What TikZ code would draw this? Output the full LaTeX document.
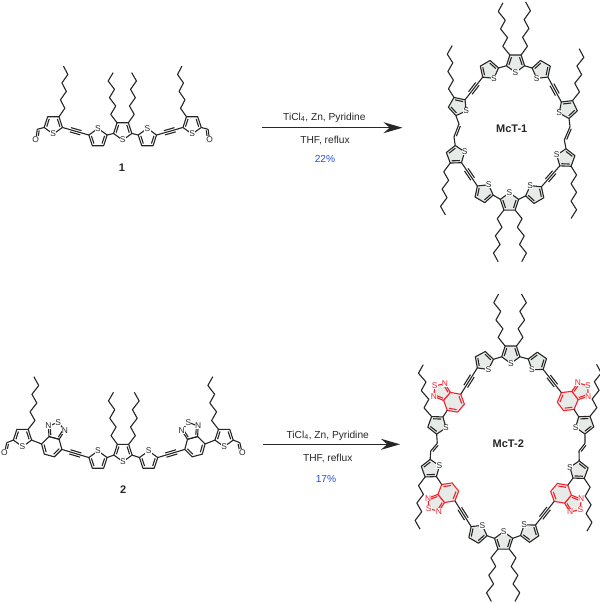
\documentclass[tikz,border=0pt]{standalone}
\usepackage{fontspec}
\setmainfont{Liberation Sans}
\usepackage{tikz}
\usetikzlibrary{arrows.meta,calc}

\definecolor{ringgrey}{HTML}{E6EBE8}
\definecolor{btdred}{HTML}{F5222D}
\definecolor{yieldblue}{HTML}{2B50D8}

\tikzset{
    bond/.style={line width=1.1pt, line join=round, draw=black!85},
    atom/.style={inner sep=0.3pt, fill=white, font=\fontsize{8.4}{9}\selectfont, text=black!85},
    reagent/.style={font=\fontsize{10.2}{12}\selectfont, text=black!85},
    label/.style={font=\fontsize{11}{13}\selectfont\bfseries, text=black!85},
    rxnarrow/.style={line width=1.4pt, draw=black!85, -{Stealth[length=19,width=11]}},
}

%% thiophene: name, centre, direction of S, fill
\newcommand{\thio}[4]{
    \begin{scope}[shift={(#2)},rotate={0-(#3)}]
        \coordinate (#1-a) at (72:9.6);
        \coordinate (#1-b) at (144:9.6);
        \coordinate (#1-c) at (216:9.6);
        \coordinate (#1-d) at (288:9.6);
        \draw[bond,fill=#4] (0:9.6) -- (#1-a) -- (#1-b) -- (#1-c) -- (#1-d) -- cycle;
        \draw[bond] (72:6.9) -- (144:6.9);
        \draw[bond] (216:6.9) -- (288:6.9);
        \node[atom] (#1-s) at (0:9.6) {S};
    \end{scope}
}

%% benzothiadiazole: name, centre, direction of S, colour, fill
\newcommand{\btd}[5]{
    \begin{scope}[shift={(#2)},rotate={0-(#3)}]
        \coordinate (#1-1) at (30:10.5);
        \coordinate (#1-2) at (90:10.5);
        \coordinate (#1-3) at (150:10.5);
        \coordinate (#1-4) at (210:10.5);
        \coordinate (#1-5) at (270:10.5);
        \coordinate (#1-6) at (330:10.5);
        \draw[bond,draw=#4,fill=#5] (#1-1) -- (19.08,8.49) -- (25.25,0) -- (19.08,-8.49) -- (#1-6) -- cycle;
        \draw[bond,draw=#4,fill=#5] (#1-1) -- (#1-2) -- (#1-3) -- (#1-4) -- (#1-5) -- (#1-6) -- cycle;
        \draw[bond,draw=#4] (90:7.8) -- (150:7.8);
        \draw[bond,draw=#4] (210:7.8) -- (270:7.8);
        \draw[bond,draw=#4] (11,3.9) -- (18.2,6.3);
        \draw[bond,draw=#4] (11,-3.9) -- (18.2,-6.3);
        \node[atom,text=#4] (#1-na) at (19.08,8.49) {N};
        \node[atom,text=#4] (#1-nb) at (19.08,-8.49) {N};
        \node[atom,text=#4] (#1-s) at (25.25,0) {S};
    \end{scope}
}

\newcommand{\hexyl}[3]{
    \draw[bond] (#1) -- ++(#2) -- ++(#3) -- ++(#2) -- ++(#3) -- ++(#2) -- ++(#3);
}
\newcommand{\alkyne}[2]{
    \draw[bond] (#1) -- (#2);
    \draw[bond] ($(#1)!.3!(#2)!2.2pt!90:(#2)$) -- ($(#1)!.7!(#2)!2.2pt!90:(#2)$);
    \draw[bond] ($(#1)!.3!(#2)!2.2pt!-90:(#2)$) -- ($(#1)!.7!(#2)!2.2pt!-90:(#2)$);
}
\newcommand{\dbond}[2]{
    \draw[bond] (#1) -- (#2);
    \draw[bond] ($(#1)!.1!(#2)!2pt!90:(#2)$) -- ($(#1)!.9!(#2)!2pt!90:(#2)$);
}
%% vinylene between two rings
\newcommand{\vinyl}[4]{
    \draw[bond] (#1) -- (#2);
    \dbond{#2}{#3}
    \draw[bond] (#3) -- (#4);
}

\begin{document}
\begin{tikzpicture}[x=1pt, y=-1pt]
    \useasboundingbox (0,0) rectangle (600,603);

    %% Monomer 1
    \thio{ca}{122.7,130.5}{90}{none}
    \hexyl{ca-b}{-6.3,-8.35}{5,-8.35}
    \hexyl{ca-c}{5.9,-8.35}{-4.8,-8.35}
    \foreach \sgn/\sd in {1/l,-1/r} {
        \begin{scope}[shift={(122.7,0)},xscale=\sgn]
            \thio{ea\sd}{-69.4,124.5}{90}{none}
            \thio{ia\sd}{-24.7,138}{-90}{none}
            \hexyl{ea\sd-c}{5.9,-8.45}{-4.4,-8.45}
            \alkyne{ea\sd-d}{ia\sd-d}
            \coordinate (cho\sd) at (-85.4,129.3);
            \coordinate (ox\sd) at (-86.6,137.6);
            \draw[bond] (ea\sd-a) -- (cho\sd);
            \dbond{cho\sd}{ox\sd}
            \node[atom] (oa\sd) at (-87,139.5) {O};
        \end{scope}
    }
    \draw[bond] (ial-a) -- (ca-a);
    \draw[bond] (iar-a) -- (ca-d);
    \node[label] (one) at (122,167.5) {1};

    %% Reaction arrow 1
    \coordinate (arrowa1) at (262,127.7);
    \coordinate (arrowa2) at (402.5,127.7);
    \draw[rxnarrow] (arrowa1) -- (arrowa2);
    \node[reagent] (reagenta) at (324.3,117.5) {TiCl\textsubscript{4}, Zn, Pyridine};
    \node[reagent] (solventa) at (325,140) {THF, reflux};
    \node[reagent,text=yieldblue] (yielda) at (325,159) {22\%};

    %% McT-1
    \thio{ta}{515.5,62.8}{90}{ringgrey}
    \hexyl{ta-b}{-7,-8.7}{4.7,-8.7}
    \hexyl{ta-c}{6.3,-8.85}{-4.8,-8.85}
    \thio{tal}{489.1,70}{60}{ringgrey}
    \thio{tar}{541.5,70}{120}{ringgrey}
    \draw[bond] (tal-d) -- (ta-a);
    \draw[bond] (tar-a) -- (ta-d);
    \thio{ula}{457.9,106.2}{30}{ringgrey}
    \thio{ura}{567.9,109}{155}{ringgrey}
    \alkyne{tal-a}{ula-d}
    \alkyne{tar-d}{ura-a}
    \hexyl{ula-c}{-5.5,-8.65}{4.9,-8.65}
    \hexyl{ura-b}{6.9,-8.65}{-4.7,-8.65}
    \thio{lla}{455.6,155.1}{-20}{ringgrey}
    \thio{lra}{565.7,158.3}{200}{ringgrey}
    \hexyl{lla-b}{-6.5,8.65}{4.9,8.65}
    \hexyl{lra-c}{5.5,8.7}{-5.5,8.7}
    \coordinate (vla1) at (459,124);
    \coordinate (vla2) at (454,136.7);
    \coordinate (vra1) at (570,126.7);
    \coordinate (vra2) at (564.3,140);
    \vinyl{ula-a}{vla1}{vla2}{lla-d}
    \vinyl{ura-d}{vra1}{vra2}{lra-a}
    \thio{bla}{483.8,193.1}{-60}{ringgrey}
    \thio{bra}{535,193.9}{-120}{ringgrey}
    \thio{ba}{509.5,202.3}{-90}{ringgrey}
    \alkyne{lla-a}{bla-d}
    \alkyne{lra-d}{bra-a}
    \draw[bond] (bla-a) -- (ba-d);
    \draw[bond] (bra-d) -- (ba-a);
    \hexyl{ba-c}{-6.6,8.6}{4.7,8.6}
    \hexyl{ba-b}{6.9,8.6}{-4.7,8.6}
    \node[label] (mcta) at (511.7,128.3) {McT-1};

    %% Monomer 2
    \thio{cb}{123,452.1}{90}{none}
    \hexyl{cb-b}{-6.3,-8.67}{5,-8.67}
    \hexyl{cb-c}{6.7,-8.67}{-4.8,-8.67}
    \foreach \sgn/\sd in {1/l,-1/r} {
        \begin{scope}[shift={(123.3,0)},xscale=\sgn]
            \thio{eb\sd}{-100.8,437.1}{90}{none}
            \thio{ib\sd}{-25.3,460.5}{-90}{none}
            \hexyl{eb\sd-c}{6.8,-8.77}{-4.9,-8.77}
            \btd{db\sd}{-71.6,446.7}{-75}{black!85}{none}
            \draw[bond] (eb\sd-d) -- (db\sd-5);
            \alkyne{db\sd-2}{ib\sd-d}
            \coordinate (chob\sd) at (-116.6,442.7);
            \coordinate (oxb\sd) at (-118.4,451);
            \draw[bond] (eb\sd-a) -- (chob\sd);
            \dbond{chob\sd}{oxb\sd}
            \node[atom] (ob\sd) at (-119,452.7) {O};
        \end{scope}
    }
    \draw[bond] (ibl-a) -- (cb-a);
    \draw[bond] (ibr-a) -- (cb-d);
    \node[label] (two) at (123.3,490) {2};

    %% Reaction arrow 2
    \coordinate (arrowb1) at (263.3,444.3);
    \coordinate (arrowb2) at (400,444.3);
    \draw[rxnarrow] (arrowb1) -- (arrowb2);
    \node[reagent] (reagentb) at (327.7,435.7) {TiCl\textsubscript{4}, Zn, Pyridine};
    \node[reagent] (solventb) at (327.7,458.3) {THF, reflux};
    \node[reagent,text=yieldblue] (yieldb) at (326,479.3) {17\%};

    %% McT-2
    \thio{tb}{510.8,353.8}{90}{ringgrey}
    \hexyl{tb-b}{-7,-8.67}{4.8,-8.67}
    \hexyl{tb-c}{6.5,-8.67}{-4.8,-8.67}
    \thio{tbl}{484,361}{62}{ringgrey}
    \thio{tbr}{537.4,361.8}{125}{ringgrey}
    \draw[bond] (tbl-d) -- (tb-a);
    \draw[bond] (tbr-a) -- (tb-d);
    \thio{ulb}{437,424.5}{20}{ringgrey}
    \thio{urb}{584.6,424.3}{160}{ringgrey}
    \thio{llb}{430.5,469}{-20}{ringgrey}
    \thio{lrb}{578.9,470.5}{200}{ringgrey}
    \hexyl{ulb-c}{-7.6,-8.65}{4.8,-8.65}
    \hexyl{urb-b}{6.9,-8.67}{-4.7,-8.67}
    \hexyl{llb-b}{-6.6,8.7}{4.9,8.7}
    \hexyl{lrb-c}{5.9,8.78}{-5,8.78}
    \btd{dul}{454,402.3}{220}{btdred}{ringgrey}
    \btd{dur}{567.7,401}{-37}{btdred}{ringgrey}
    \btd{dll}{448.3,492.7}{141}{btdred}{ringgrey}
    \btd{dlr}{561,493.3}{40}{btdred}{ringgrey}
    \alkyne{tbl-a}{dul-2}
    \alkyne{tbr-d}{dur-5}
    \draw[bond] (dul-5) -- (ulb-d);
    \draw[bond] (dur-2) -- (urb-a);
    \coordinate (vlb1) at (437.3,443.3);
    \coordinate (vlb2) at (430.7,451);
    \coordinate (vrb1) at (585,443.3);
    \coordinate (vrb2) at (579,451);
    \vinyl{ulb-a}{vlb1}{vlb2}{llb-d}
    \vinyl{urb-d}{vrb1}{vrb2}{lrb-a}
    \draw[bond] (llb-a) -- (dll-2);
    \draw[bond] (lrb-d) -- (dlr-5);
    \thio{blb}{477.6,533.7}{-60}{ringgrey}
    \thio{brb}{529.7,532.7}{-125}{ringgrey}
    \thio{bb}{503.6,541.3}{-90}{ringgrey}
    \alkyne{dll-5}{blb-d}
    \alkyne{dlr-2}{brb-a}
    \draw[bond] (blb-a) -- (bb-d);
    \draw[bond] (brb-d) -- (bb-a);
    \hexyl{bb-c}{-7,8.73}{4.8,8.73}
    \hexyl{bb-b}{6.7,8.73}{-4.8,8.73}
    \node[label] (mctb) at (508.3,444) {McT-2};
\end{tikzpicture}
\end{document}
